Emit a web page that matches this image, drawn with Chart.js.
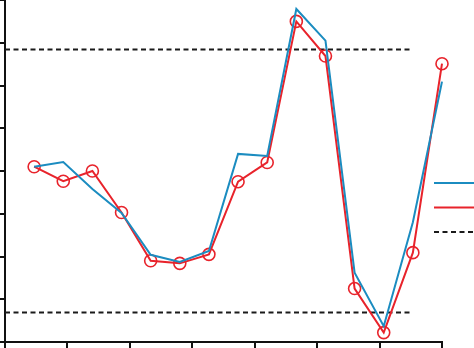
<!DOCTYPE html>
<html>
<head>
<meta charset="utf-8">
<script src="https://cdn.jsdelivr.net/npm/chart.js@4.4.0/dist/chart.umd.min.js"></script>
<style>
  html, body { margin: 0; padding: 0; background: #fff; }
  #wrap { width: 474px; height: 348px; }
</style>
</head>
<body>
<div id="wrap"><canvas id="chart"></canvas></div>
<script>
// Data (x = sample index, y in axis units)
const samples = [1, 2, 3, 4, 5, 6, 7, 8, 9, 10, 11, 12, 13, 14, 15];
const blueValues = [4.10, 4.21, 3.58, 3.02, 2.04, 1.87, 2.13, 4.40, 4.35, 7.79, 7.05, 1.62, 0.37, 2.80, 6.09];
const redValues = [4.10, 3.76, 4.00, 3.03, 1.90, 1.84, 2.05, 3.75, 4.20, 7.50, 6.69, 1.25, 0.22, 2.09, 6.51];
const upperLimit = 6.84;
const lowerLimit = 0.69;
const limitSpan = [0, 14];
const xRange = [0, 15];
const xTickCount = 8;
const yTicks = [0, 1, 2, 3, 4, 5, 6, 7, 8];

const colors = {
    blue: '#1b8cc0',
    red: '#e8232b',
    dash: '#1a1a1a',
    axis: '#111111'
};

function toPoints(values) {
    return samples.map((x, i) => ({ x: x, y: values[i] }));
}

// Legend samples to the right of the plot (text is outside the visible crop)
const legendSamples = {
    id: 'legendSamples',
    afterDraw(chart) {
        const ctx = chart.ctx;
        const area = chart.chartArea;
        const rows = [
            { color: colors.blue, dash: [] },
            { color: colors.red, dash: [] },
            { color: colors.dash, dash: [5, 3.5] }
        ];
        ctx.save();
        rows.forEach((row, i) => {
            const y = area.top + 183 + i * 24.5;
            ctx.beginPath();
            ctx.setLineDash(row.dash);
            ctx.strokeStyle = row.color;
            ctx.lineWidth = 2;
            ctx.moveTo(area.right - 8, y);
            ctx.lineTo(area.right + 40, y);
            ctx.stroke();
        });
        ctx.restore();
    }
};

new Chart(document.getElementById('chart'), {
    type: 'line',
    data: {
        datasets: [
            {
                label: 'blue',
                data: toPoints(blueValues),
                borderColor: colors.blue,
                borderWidth: 2,
                pointRadius: 0,
                tension: 0,
                clip: false
            },
            {
                label: 'red',
                data: toPoints(redValues),
                borderColor: colors.red,
                borderWidth: 2,
                pointRadius: 6,
                pointBorderWidth: 1.6,
                pointBorderColor: colors.red,
                pointBackgroundColor: 'rgba(255,255,255,0)',
                tension: 0,
                clip: false
            },
            {
                label: 'upper',
                data: limitSpan.map(x => ({ x: x, y: upperLimit })),
                borderColor: colors.dash,
                borderWidth: 2,
                borderDash: [5, 3.5],
                pointRadius: 0
            },
            {
                label: 'lower',
                data: limitSpan.map(x => ({ x: x, y: lowerLimit })),
                borderColor: colors.dash,
                borderWidth: 2,
                borderDash: [5, 3.5],
                pointRadius: 0
            }
        ]
    },
    options: {
        responsive: true,
        maintainAspectRatio: false,
        animation: false,
        layout: { autoPadding: false, padding: { left: 0, top: 0, right: 32, bottom: 0 } },
        plugins: {
            legend: { display: false },
            tooltip: { enabled: false }
        },
        scales: {
            x: {
                type: 'linear',
                min: xRange[0],
                max: xRange[1],
                afterBuildTicks(scale) {
                    const step = (xRange[1] - xRange[0]) / (xTickCount - 1);
                    scale.ticks = Array.from({ length: xTickCount }, (_, k) => ({ value: xRange[0] + k * step }));
                },
                grid: {
                    drawOnChartArea: false,
                    drawTicks: true,
                    tickLength: 6,
                    color: colors.axis,
                    lineWidth: 2
                },
                border: { display: true, color: colors.axis, width: 2 },
                ticks: { display: false }
            },
            y: {
                type: 'linear',
                min: yTicks[0],
                max: yTicks[yTicks.length - 1],
                afterBuildTicks(scale) {
                    scale.ticks = yTicks.map(v => ({ value: v }));
                },
                grid: {
                    drawOnChartArea: false,
                    drawTicks: true,
                    tickLength: 5,
                    color: colors.axis,
                    lineWidth: 2
                },
                border: { display: true, color: colors.axis, width: 2 },
                ticks: { display: false }
            }
        }
    },
    plugins: [legendSamples]
});
</script>
</body>
</html>
